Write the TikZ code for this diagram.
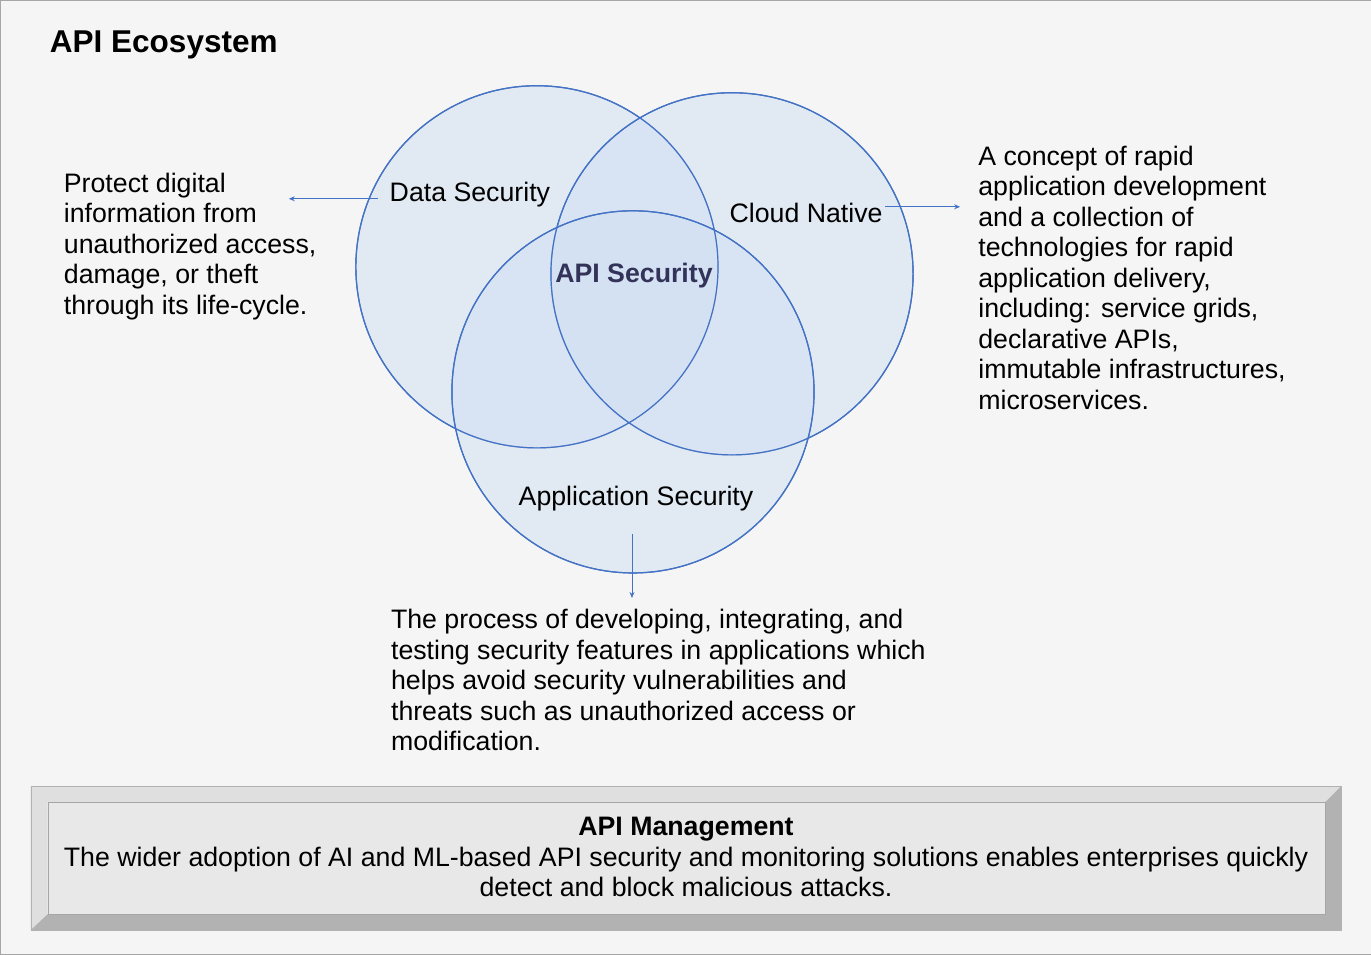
\documentclass[tikz,border=0pt]{standalone}
\usepackage{fontspec}
\setmainfont{Liberation Sans}
\usetikzlibrary{arrows.meta}
\definecolor{cb}{HTML}{4472C4}
\definecolor{cf}{HTML}{D2E0F3}
\tikzset{
 venn/.style={draw=cb,line width=1.2pt,fill=cf,fill opacity=0.55},
 txt/.style={font=\fontsize{26.7}{30.5}\selectfont,align=left,inner sep=0pt,text=black},
 lab/.style={font=\fontsize{26.7}{30.5}\selectfont,inner sep=0pt},
 arr/.style={draw=cb,line width=0.8pt,-{Stealth[length=6pt,width=5pt]}}
}
\begin{document}
\begin{tikzpicture}[x=1pt,y=-1pt]
\fill[fill=white!96!black,draw=gray!70] (0.5,0.5) rectangle (1370.5,954.5);
\node[font=\bfseries\fontsize{31.5}{34}\selectfont,anchor=west,inner sep=0pt] (title) at (50,45) {API Ecosystem};
\path[venn] (537,267) circle (181);
\path[venn] (732,274) circle (181);
\path[venn] (633,392) circle (181);
\draw[cb,line width=1.2pt] (537,267) circle (181) (732,274) circle (181) (633,392) circle (181);
\node[lab] (ds) at (470,195) {Data Security};
\node[lab] (cn) at (806,213) {Cloud Native};
\node[lab] (as) at (636,499) {Application Security};
\node[lab,font=\bfseries\fontsize{26.7}{30}\selectfont,text=black!75!blue!60!gray] (api) at (634,276) {API Security};
\node[txt,anchor=north west] (lt) at (64,173) {Protect digital\\information from\\unauthorized access,\\damage, or theft\\through its life-cycle.};
\node[txt,anchor=north west] (rt) at (978,146) {A concept of rapid\\application development\\and a collection of\\technologies for rapid\\application delivery,\\including: service grids,\\declarative APIs,\\immutable infrastructures,\\microservices.};
\node[txt,anchor=north west] (bt) at (391,609) {The process of developing, integrating, and\\testing security features in applications which\\helps avoid security vulnerabilities and\\threats such as unauthorized access or\\modification.};
\coordinate (a1) at (378,199); \coordinate (a2) at (289,199);
\coordinate (b1) at (885,207); \coordinate (b2) at (960,207);
\coordinate (c1) at (632,534); \coordinate (c2) at (632,598);
\draw[arr] (a1) -- (a2);
\draw[arr] (b1) -- (b2);
\draw[arr] (c1) -- (c2);
% bevel box
\fill[gray!25] (31,786) -- (1341,786) -- (1325,802) -- (48,802) -- (48,914) -- (31,930) -- cycle;
\fill[gray!60] (1341,786) -- (1341,930) -- (31,930) -- (48,914) -- (1325,914) -- (1325,802) -- cycle;
\draw[gray!60] (31,786) rectangle (1341,930);
\draw[gray!70,fill=gray!18] (48,802) rectangle (1325,914);
\node[align=center,inner sep=0pt,font=\fontsize{26.7}{30.5}\selectfont] (mgmt) at (686,857) {\textbf{API Management}\\The wider adoption of AI and ML-based API security and monitoring solutions enables enterprises quickly\\detect and block malicious attacks.};
\end{tikzpicture}
\end{document}
